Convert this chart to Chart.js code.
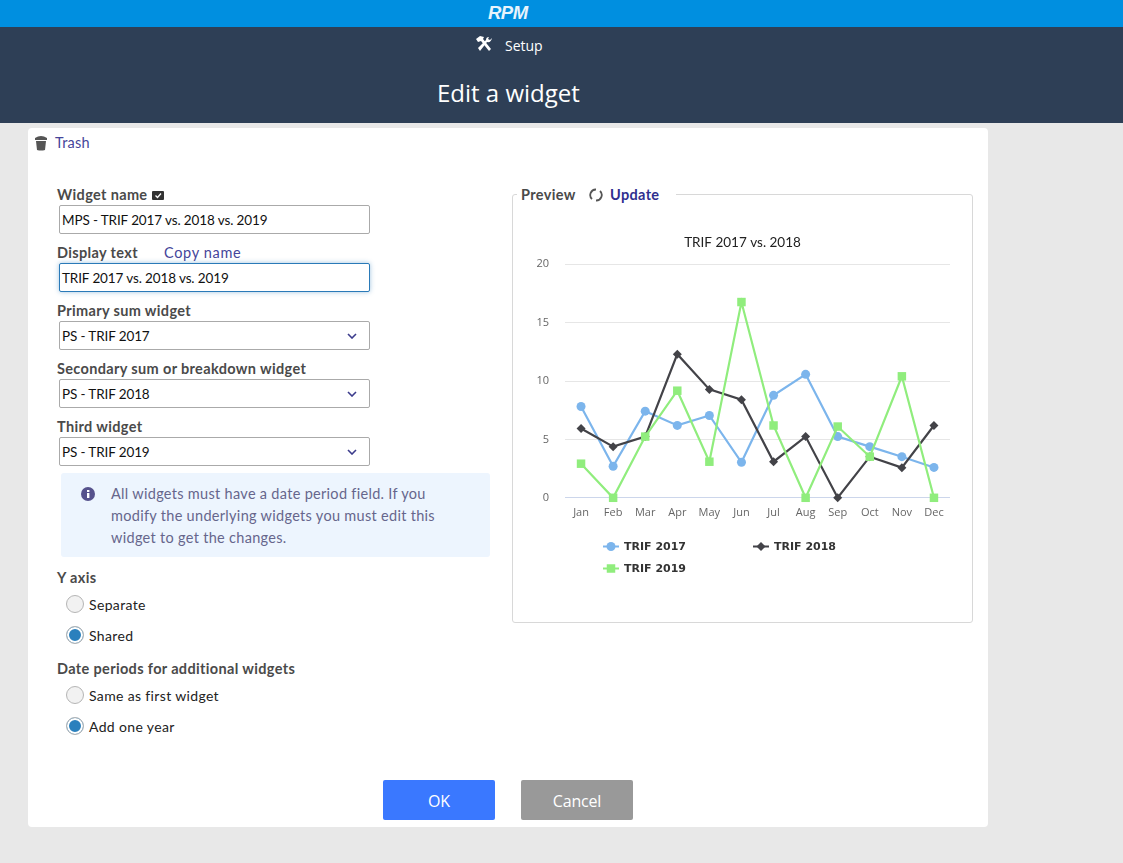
<!DOCTYPE html>
<html>
<head>
<meta charset="utf-8">
<title>Edit a widget</title>
<script src="https://cdn.jsdelivr.net/npm/chart.js@4"></script>
<style>
  html, body { margin: 0; padding: 0; }
  body { width: 1123px; height: 863px; background: #e8e8e8; position: relative; overflow: hidden; font-family: Lato, sans-serif; }
  .abs { position: absolute; white-space: nowrap; }
  .topbar { left: 0; top: 0; width: 1123px; height: 27px; background: #008fe0; }
  .header { left: 0; top: 27px; width: 1123px; height: 96px; background: #2e3f56; }
  .card { left: 28px; top: 128px; width: 960px; height: 699px; background: #fff; border-radius: 4px; }
  .label { left: 57px; font-size: 14.5px; font-weight: 700; color: #4a4a4a; line-height: 18px; letter-spacing: 0.35px; }
  .field { left: 59px; width: 309px; height: 27px; border: 1px solid #aaa; border-radius: 2px; background: #fff; font-size: 13.5px; line-height: 29px; color: #111; text-indent: 2px; letter-spacing: -0.12px; }
  .focus { border-color: #2a7ab8; box-shadow: 0 0 5px rgba(42, 122, 184, 0.45); }
  .radio { left: 66px; width: 16px; height: 16px; border: 1px solid #b5b5b5; border-radius: 50%; background: #f2f2f2; }
  .radio.on { background: #2a80bd; box-shadow: inset 0 0 0 2px #fff; }
  .opt { left: 89px; font-size: 14px; color: #222; line-height: 18px; letter-spacing: 0.35px; }
  .link { color: #45459a; }
  .btn { top: 780px; width: 112px; height: 40px; text-align: center; color: #fff; font: 16px/42px "Open Sans", sans-serif; border-radius: 2px; letter-spacing: -0.2px; }
  .preview { left: 512px; top: 194px; width: 459px; height: 427px; border: 1px solid #d8d8d8; border-radius: 3px; }
  canvas { position: absolute; left: 513px; top: 195px; }
</style>
</head>
<body>
<div class="abs topbar"></div>
<div class="abs" style="left:488px;top:3px;font:italic bold 18.5px/20px 'Liberation Sans',sans-serif;color:#e8f4fc;letter-spacing:-0.5px">RPM</div>
<div class="abs header"></div>
<svg class="abs" style="left:475px;top:36px" width="18" height="16" viewBox="0 0 18 16"><path d="M1 3 L5 0 L9 1 L8 3 L16 13 L14 15 L6 5 L3 6 Z" fill="#fff"/><path d="M17 2 L15 4 L13 3 L14 1 Q11 1 11 4 L3 12 L5 15 L12 6 Q16 7 17 2 Z" fill="#fff"/></svg>
<div class="abs" style="left:505px;top:36px;font:14px/20px 'Open Sans',sans-serif;color:#fff">Setup</div>
<div class="abs" style="left:437px;top:76px;font:24px/34px 'Open Sans',sans-serif;color:#fff">Edit a widget</div>

<div class="abs card"></div>
<svg class="abs" style="left:34px;top:135px" width="14" height="16" viewBox="0 0 14 16"><path d="M1 3 Q7 -1 13 3 L13 5 L1 5 Z M2 6 L12 6 L11 15 Q7 16 3 15 Z" fill="#555"/></svg>
<div class="abs link" style="left:55px;top:134px;font-size:14.5px;line-height:18px;letter-spacing:0.2px">Trash</div>

<div class="abs label" style="top:186px">Widget name</div>
<svg class="abs" style="left:152px;top:191px" width="12" height="9" viewBox="0 0 12 9"><rect width="12" height="9" rx="1" fill="#333"/><path d="M3.5 4.5 L5.5 6.5 L9 2.5" stroke="#fff" stroke-width="1.3" fill="none"/></svg>
<div class="abs field" style="top:205px">MPS - TRIF 2017 vs. 2018 vs. 2019</div>
<div class="abs label" style="top:244px">Display text</div>
<div class="abs link" style="left:164px;top:244px;font-size:14.5px;line-height:18px;letter-spacing:0.65px">Copy name</div>
<div class="abs field focus" style="top:263px">TRIF 2017 vs. 2018 vs. 2019</div>
<div class="abs label" style="top:302px">Primary sum widget</div>
<div class="abs field" style="top:321px">PS - TRIF 2017</div>
<div class="abs label" style="top:360px">Secondary sum or breakdown widget</div>
<div class="abs field" style="top:379px">PS - TRIF 2018</div>
<div class="abs label" style="top:418px">Third widget</div>
<div class="abs field" style="top:437px">PS - TRIF 2019</div>
<svg class="abs" style="left:347px;top:333px" width="10" height="6"><path d="M1 1 L5 5 L9 1" stroke="#3c3c8c" stroke-width="1.6" fill="none"/></svg>
<svg class="abs" style="left:347px;top:391px" width="10" height="6"><path d="M1 1 L5 5 L9 1" stroke="#3c3c8c" stroke-width="1.6" fill="none"/></svg>
<svg class="abs" style="left:347px;top:449px" width="10" height="6"><path d="M1 1 L5 5 L9 1" stroke="#3c3c8c" stroke-width="1.6" fill="none"/></svg>

<div class="abs" style="left:61px;top:473px;width:429px;height:84px;background:#edf5fe;border-radius:3px"></div>
<svg class="abs" style="left:81px;top:487px" width="14" height="14" viewBox="0 0 14 14"><circle cx="7" cy="7" r="7" fill="#56528c"/><rect x="6" y="6" width="2.4" height="5" fill="#fff"/><rect x="6" y="3" width="2.4" height="2" fill="#fff"/></svg>
<div class="abs" style="left:111px;top:483px;font-size:14.5px;line-height:22px;color:#66668c;letter-spacing:0.3px">All widgets must have a date period field. If you<br>modify the underlying widgets you must edit this<br>widget to get the changes.</div>

<div class="abs label" style="top:569px">Y axis</div>
<div class="abs radio" style="top:595px"></div>
<div class="abs opt" style="top:596px">Separate</div>
<div class="abs radio on" style="top:626px"></div>
<div class="abs opt" style="top:627px">Shared</div>
<div class="abs label" style="top:660px">Date periods for additional widgets</div>
<div class="abs radio" style="top:686px"></div>
<div class="abs opt" style="top:687px">Same as first widget</div>
<div class="abs radio on" style="top:717px"></div>
<div class="abs opt" style="top:718px">Add one year</div>

<div class="abs btn" style="left:383px;background:#3a78ff">OK</div>
<div class="abs btn" style="left:521px;background:#999">Cancel</div>

<div class="abs preview"></div>
<div class="abs" style="left:517px;top:186px;width:159px;height:18px;background:#fff"></div>
<div class="abs label" style="left:521px;top:186px">Preview</div>
<svg class="abs" style="left:589px;top:188px" width="14" height="14" viewBox="0 0 14 14"><path d="M7 1.5 A5.5 5.5 0 0 0 3 11 M7 12.5 A5.5 5.5 0 0 0 11 3" stroke="#555" stroke-width="1.8" fill="none"/></svg>
<div class="abs label" style="left:610px;top:186px;color:#2f2f8f">Update</div>

<canvas id="trifChart" width="459" height="427"></canvas>

<script>
const chartTitle = 'TRIF 2017 vs. 2018';
const months = ['Jan', 'Feb', 'Mar', 'Apr', 'May', 'Jun', 'Jul', 'Aug', 'Sep', 'Oct', 'Nov', 'Dec'];
const trif2017 = [7.82, 2.7, 7.42, 6.2, 7.05, 3.04, 8.77, 10.57, 5.24, 4.38, 3.52, 2.6];
const trif2018 = [5.93, 4.38, 5.24, 12.3, 9.28, 8.4, 3.09, 5.24, 0, 3.52, 2.58, 6.19];
const trif2019 = [2.92, 0, 5.24, 9.17, 3.09, 16.76, 6.19, 0, 6.1, 3.52, 10.4, 0];

function makeSeries(label, data, color, pointStyle, pointRadius, order) {
  return {
    label, data, order, pointStyle, pointRadius,
    borderColor: color,
    backgroundColor: color,
    pointBackgroundColor: color,
    pointBorderWidth: 0,
    borderWidth: 2.2,
    tension: 0,
    clip: false
  };
}

// two column legend, the built in one sizes columns to the text
const columnLegend = {
  id: 'columnLegend',
  afterDraw(chart) {
    const ctx = chart.ctx;
    ctx.save();
    chart.data.datasets.forEach((ds, i) => {
      const x = 90 + (i % 2) * 150;
      const y = 351.5 + Math.floor(i / 2) * 22;
      ctx.strokeStyle = ds.borderColor;
      ctx.lineWidth = 2;
      ctx.beginPath();
      ctx.moveTo(x, y);
      ctx.lineTo(x + 16, y);
      ctx.stroke();
      ctx.fillStyle = ds.borderColor;
      Chart.helpers.drawPoint(ctx, { pointStyle: ds.pointStyle, radius: ds.pointRadius, rotation: 0, borderWidth: 0 }, x + 8, y);
      ctx.fillStyle = '#333333';
      ctx.font = 'bold 11px "DejaVu Sans"';
      ctx.textBaseline = 'middle';
      ctx.fillText(ds.label, x + 21, y + 1);
    });
    ctx.restore();
  }
};

new Chart(document.getElementById('trifChart'), {
  type: 'line',
  data: {
    labels: months,
    datasets: [
      makeSeries('TRIF 2017', trif2017, '#7cb5ec', 'circle', 4.5, 2),
      makeSeries('TRIF 2018', trif2018, '#434348', 'rectRot', 4.5, 1),
      makeSeries('TRIF 2019', trif2019, '#90ed7d', 'rect', 6, 0)
    ]
  },
  plugins: [columnLegend],
  options: {
    responsive: false,
    animation: false,
    // same padding both sides keeps the title centred on the canvas
    layout: { padding: { left: 22, right: 22, top: 40, bottom: 95 } },
    plugins: {
      legend: { display: false },
      tooltip: { enabled: false },
      title: {
        display: true,
        text: chartTitle,
        color: '#222222',
        font: { family: 'Lato', size: 13.5, weight: 'normal' },
        padding: { top: 0, bottom: 13 }
      }
    },
    scales: {
      x: {
        offset: true,
        grid: { display: false, drawTicks: false },
        border: { display: false },
        ticks: { color: '#666666', font: { family: '"Open Sans"', size: 11 }, padding: 8, maxRotation: 0, autoSkip: false }
      },
      y: {
        min: 0,
        max: 20,
        afterFit(scale) { scale.width = 30; },
        grid: {
          drawTicks: false,
          color: (c) => (c.tick.value === 0 ? '#ccd6eb' : '#e6e6e6')
        },
        border: { display: false },
        ticks: { stepSize: 5, color: '#666666', font: { family: '"Open Sans"', size: 11 }, padding: 16 }
      }
    }
  }
});
</script>
</body>
</html>
